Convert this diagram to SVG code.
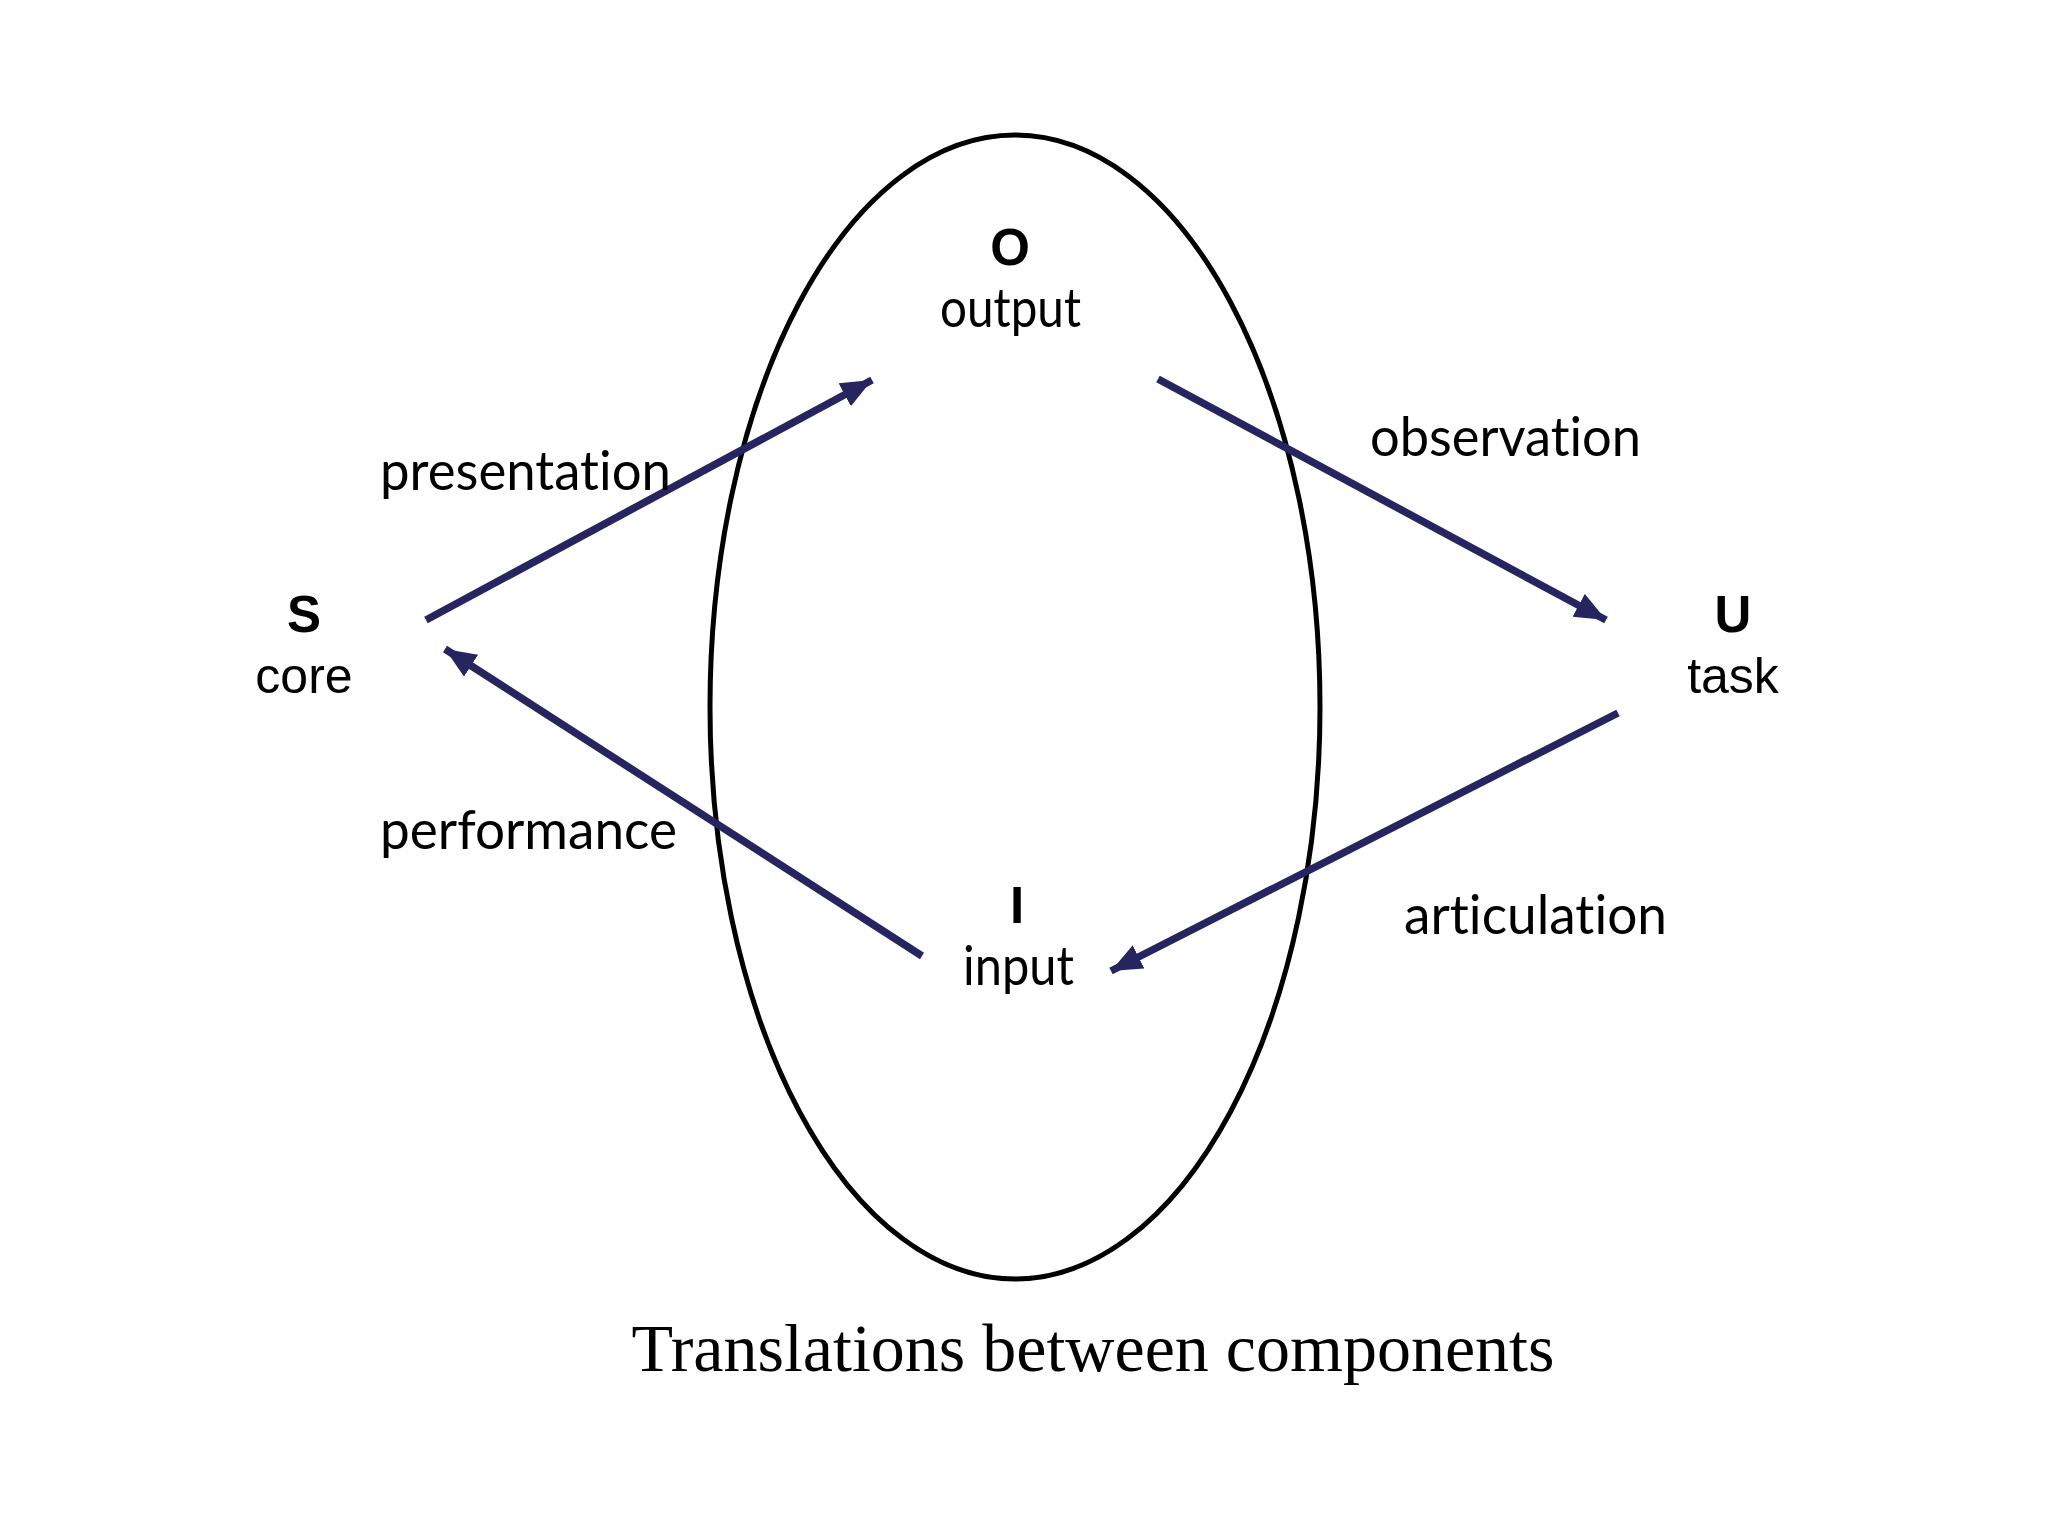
<svg xmlns="http://www.w3.org/2000/svg" width="2048" height="1536" viewBox="0 0 2048 1536">
<style>
.bold{font-family:"Liberation Sans",Arial,sans-serif;font-weight:bold;font-size:51px;fill:#000;text-anchor:middle}
.ar{font-family:"Liberation Sans",Arial,sans-serif;font-size:50px;fill:#000;text-anchor:middle}
.cal{font-family:Lato,"Open Sans",sans-serif;font-size:54px;fill:#000;font-variant-ligatures:none;font-feature-settings:"liga" 0}
.title{font-family:"Liberation Serif","Times New Roman",serif;font-size:68px;fill:#000;text-anchor:middle}
.conn{stroke:#27255f;stroke-width:7.5;fill:none;marker-end:url(#ah)}
</style>
<defs>
<marker id="ah" markerUnits="userSpaceOnUse" markerWidth="34" markerHeight="28" refX="31" refY="13" orient="auto">
<path d="M0,0 L31,13 L0,26 Z" fill="#27255f"/>
</marker>
</defs>
<rect width="2048" height="1536" fill="#fff"/>
<g id="ellipse">
<ellipse cx="1015" cy="707" rx="305" ry="572" fill="none" stroke="#000" stroke-width="5"/>
</g>
<g id="connectors">
<line class="conn" x1="426" y1="620" x2="872" y2="380"/>
<line class="conn" x1="1158" y1="379" x2="1606" y2="620"/>
<line class="conn" x1="1618" y1="713" x2="1111" y2="971"/>
<line class="conn" x1="922" y1="956" x2="445" y2="649"/>
</g>
<g id="node-O">
<text class="bold" x="1010" y="265">O</text>
<text class="cal" x="940" y="327" textLength="141" lengthAdjust="spacingAndGlyphs">output</text>
</g>
<g id="node-S">
<text class="bold" x="304" y="632">S</text>
<text class="ar" x="304" y="693">core</text>
</g>
<g id="node-U">
<text class="bold" x="1733" y="632">U</text>
<text class="ar" x="1733" y="693">task</text>
</g>
<g id="node-I">
<text class="bold" x="1017" y="923">I</text>
<text class="cal" x="963" y="985" textLength="111" lengthAdjust="spacingAndGlyphs">input</text>
</g>
<g id="labels">
<text class="cal" x="380" y="490" textLength="291" lengthAdjust="spacingAndGlyphs">presentation</text>
<text class="cal" x="1370" y="456" textLength="271" lengthAdjust="spacingAndGlyphs">observation</text>
<text class="cal" x="380" y="849" textLength="297" lengthAdjust="spacingAndGlyphs">performance</text>
<text class="cal" x="1404" y="934" textLength="263" lengthAdjust="spacingAndGlyphs">articulation</text>
</g>
<g id="title">
<text class="title" x="1093" y="1371">Translations between components</text>
</g>
</svg>
